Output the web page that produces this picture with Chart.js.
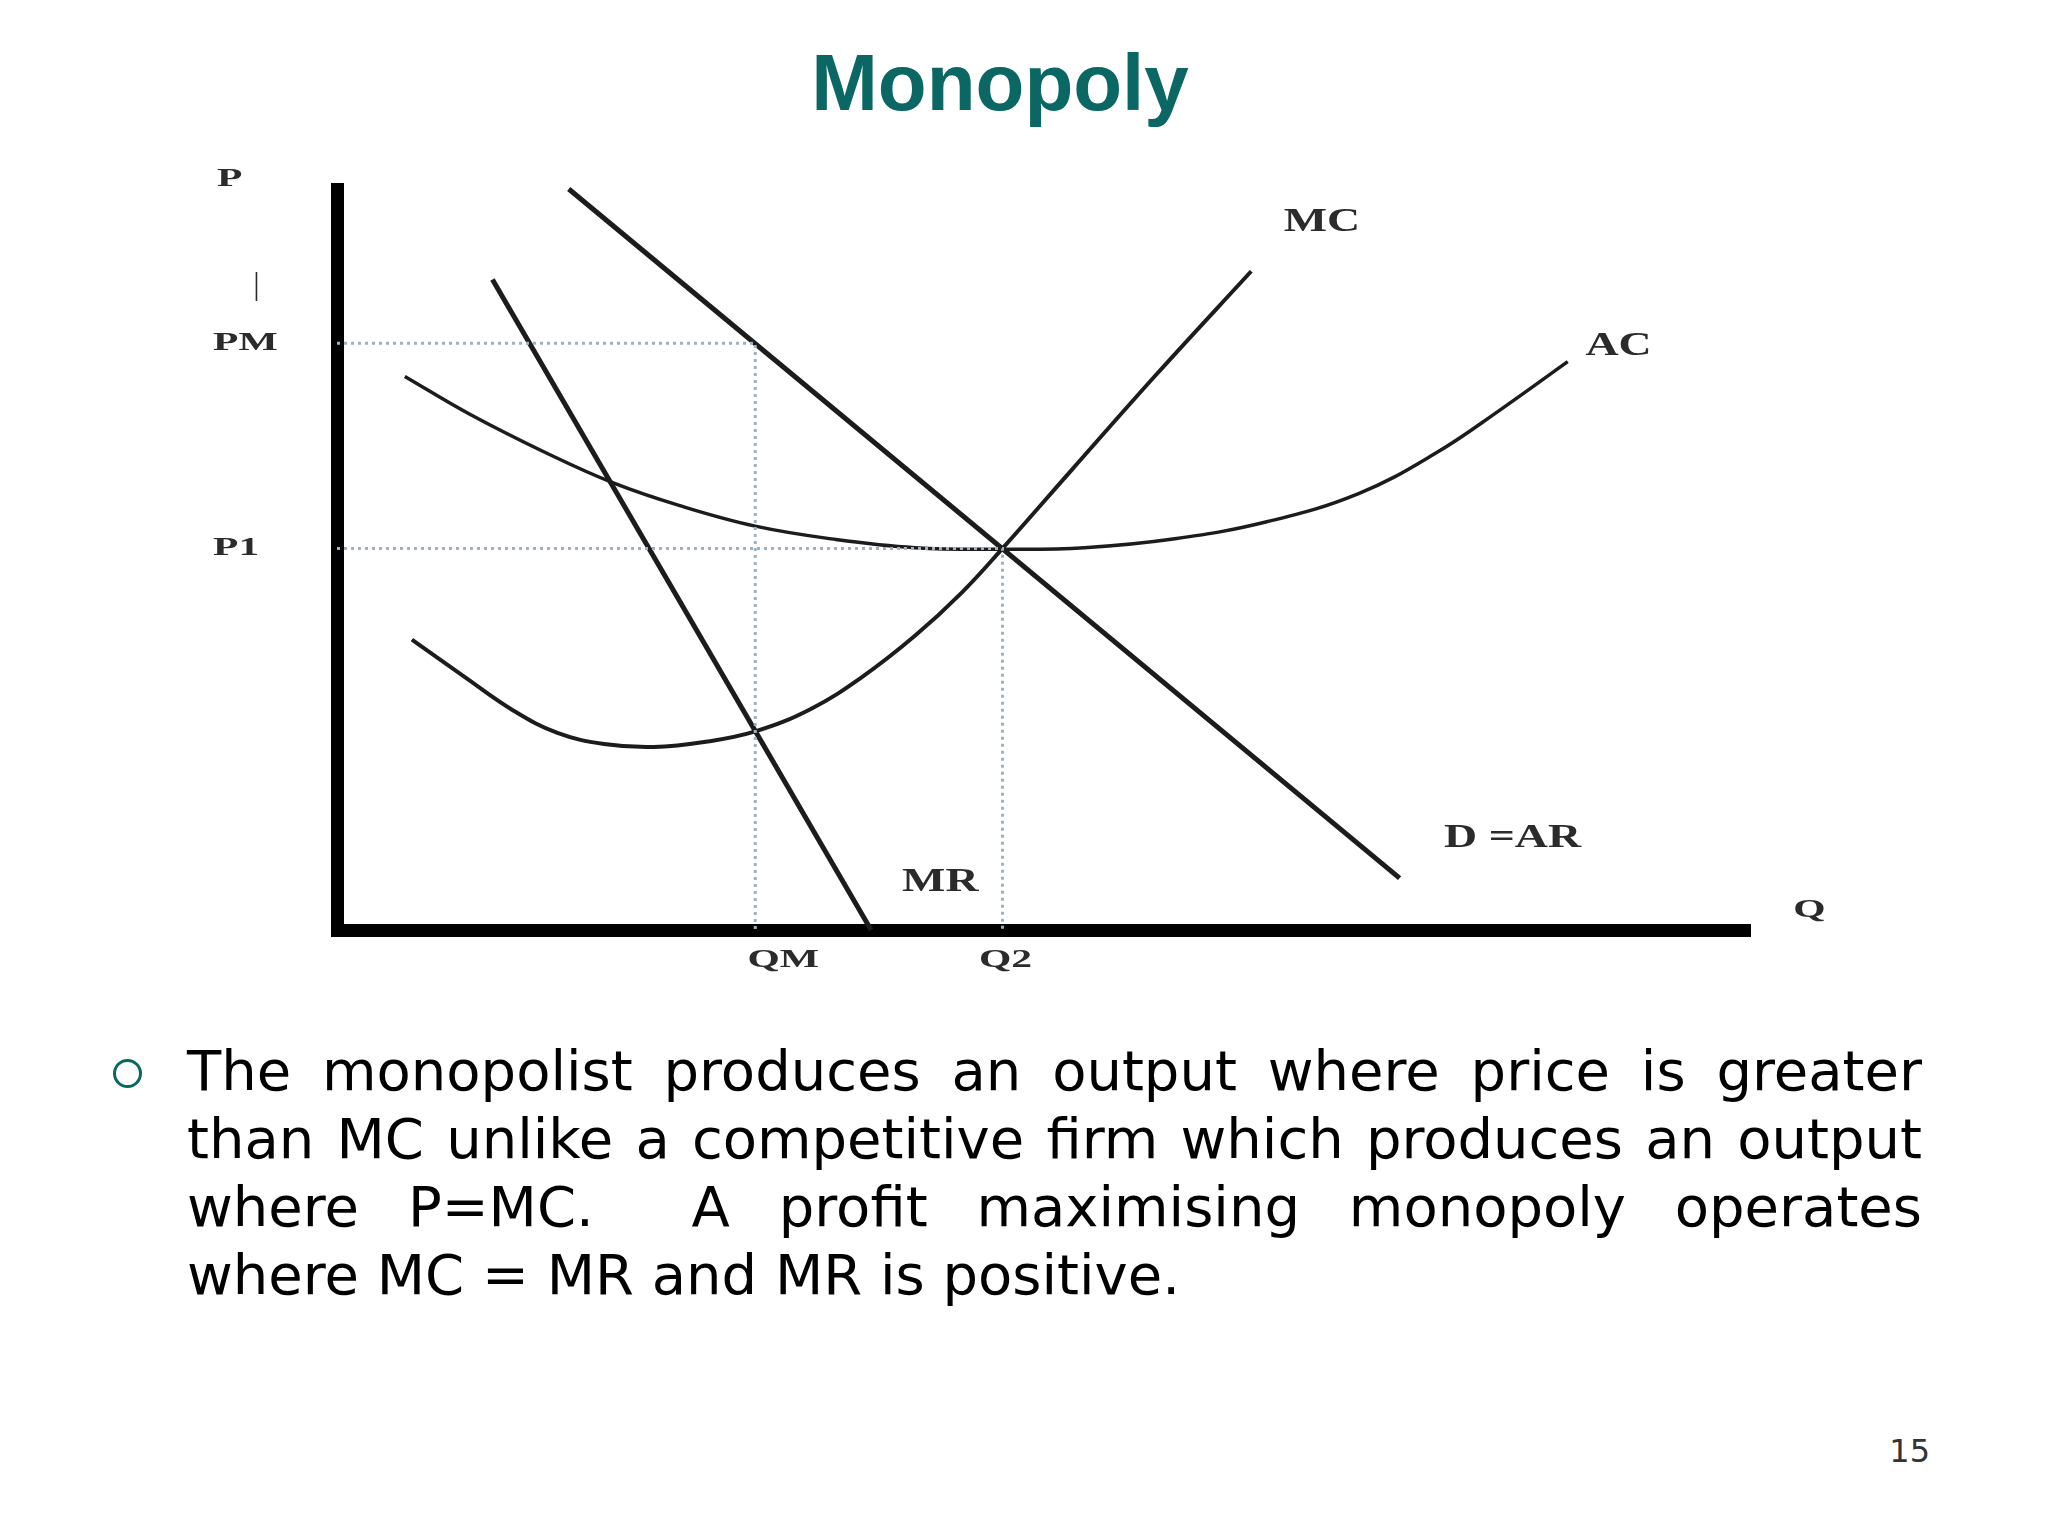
<!DOCTYPE html>
<html>
<head>
<meta charset="utf-8">
<script src="https://cdn.jsdelivr.net/npm/chart.js@4.4.1/dist/chart.umd.min.js"></script>
<style>
  html, body { margin: 0; padding: 0; background: #fff; }
  #page { position: relative; width: 2048px; height: 1536px; overflow: hidden; background: #fff; }
  #title { position: absolute; left: 0; top: 43px; width: 2000px; text-align: center;
           font: bold 80px "Liberation Sans", Arial, sans-serif; line-height: 80px; color: #0b6763; }
  #chartBox { position: absolute; left: 0; top: 0; width: 2048px; height: 1040px; }
  #bullet { position: absolute; left: 113px; top: 1059px; width: 23px; height: 23px;
            border: 3px solid #0b6763; border-radius: 50%; }
  #text { position: absolute; left: 187px; top: 1037px; width: 1735px;
          font: 56px "DejaVu Sans", Verdana, sans-serif; line-height: 68px; color: #000; }
  #text .j { display: block; text-align: justify; text-align-last: justify; }
  #text .l { display: block; text-align: left; }
  #num { position: absolute; right: 118px; top: 1432px; font: 32px "DejaVu Sans", Verdana, sans-serif; color: #333; }
</style>
</head>
<body>
<div id="page">
  <div id="title">Monopoly</div>
  <div id="chartBox"><canvas id="monopolyChart" width="2048" height="1040"></canvas></div>
  <div id="bullet"></div>
  <div id="text">
    <span class="j">The monopolist produces an output where price is greater</span>
    <span class="j">than MC unlike a competitive firm which produces an output</span>
    <span class="j">where P=MC.&nbsp; A profit maximising monopoly operates</span>
    <span class="l">where MC = MR and MR is positive.</span>
  </div>
  <div id="num">15</div>
</div>
<script>
// equilibrium values (quantity and price units)
const QM = 29.6;
const Q2 = 47.1;
const PM = 79.2;
const P1 = 51.5;

// demand / average revenue (straight line)
const demandQ = [16.4, 75.2];
const demandP = [100.0, 7.0];

// marginal revenue (straight line)
const mrQ = [11.0, 37.8];
const mrP = [87.8, 0.0];

// marginal cost curve
const mcQ = [5.3, 9.0, 12.5, 15.6, 18.9, 22.4, 26.1, 29.6, 33.5, 37.2, 40.9, 44.2, 47.1, 52.0, 58.0, 64.7];
const mcP = [39.2, 34.2, 29.6, 26.6, 25.1, 24.7, 25.4, 26.8, 29.8, 34.2, 39.7, 45.5, 51.5, 62.1, 75.0, 88.9];

// average cost curve
const acQ = [4.8, 9.4, 15.0, 19.6, 24.2, 29.6, 35.3, 40.9, 47.1, 52.9, 59.3, 65.8, 72.3, 77.8, 82.4, 87.1];
const acP = [74.7, 69.6, 64.2, 60.3, 57.3, 54.5, 52.7, 51.6, 51.4, 51.6, 52.8, 55.1, 58.9, 64.4, 70.3, 76.7];

// tick labels on the axes
const priceTickLabels = ['PM', 'P1'];
const priceTickValues = [PM, P1];
const qtyTickLabels = ['QM', 'Q2'];
const qtyTickValues = [QM, Q2];

const toPoints = (xs, ys) => xs.map((x, i) => ({ x: x, y: ys[i] }));

// text placed in data units, drawn through the scales
const smallLabels = [
  { text: 'P', x: -7.6, y: 101.3 },
  { text: 'Q', x: 104.2, y: 2.7 }
];
const curveLabels = [
  { text: 'MC', x: 69.7, y: 95.5 },
  { text: 'AC', x: 90.7, y: 78.8 },
  { text: 'D =AR', x: 83.2, y: 12.4 },
  { text: 'MR', x: 42.7, y: 6.5 }
];

function stretchText(ctx, text, x, y, font, sx) {
  ctx.save();
  ctx.translate(x, y);
  ctx.scale(sx, 1);
  ctx.font = font;
  ctx.fillText(text, 0, 0);
  ctx.restore();
}

const labelsPlugin = {
  id: 'diagramLabels',
  afterDraw(chart) {
    const { ctx, chartArea } = chart;
    const xs = chart.scales.x, ys = chart.scales.y;
    const small = 'bold 26px "Liberation Serif", serif';
    const big = 'bold 34px "Liberation Serif", serif';
    ctx.save();
    ctx.fillStyle = '#2b2b2b';
    ctx.textAlign = 'center';
    ctx.textBaseline = 'middle';

    smallLabels.forEach(l => stretchText(ctx, l.text, xs.getPixelForValue(l.x), ys.getPixelForValue(l.y), small, 1.6));
    curveLabels.forEach(l => stretchText(ctx, l.text, xs.getPixelForValue(l.x), ys.getPixelForValue(l.y), big, 1.35));

    // little mark under P
    ctx.font = '32px "Liberation Serif", serif';
    ctx.fillText('|', xs.getPixelForValue(-5.7), ys.getPixelForValue(87.0));

    // price ticks, left aligned
    ctx.textAlign = 'left';
    priceTickLabels.forEach((t, i) => {
      stretchText(ctx, t, chartArea.left - 124, ys.getPixelForValue(priceTickValues[i]), small, 1.6);
    });
    // quantity ticks
    ctx.textAlign = 'center';
    const qShift = [28, 3];
    qtyTickLabels.forEach((t, i) => {
      stretchText(ctx, t, xs.getPixelForValue(qtyTickValues[i]) + qShift[i], chartArea.bottom + 30, small, 1.6);
    });
    ctx.restore();
  }
};

const dotted = { borderColor: '#9fb0c2', borderWidth: 3, borderDash: [3, 4] };
const curve = { borderColor: '#1c1c1c', pointRadius: 0, fill: false, clip: false };

new Chart(document.getElementById('monopolyChart').getContext('2d'), {
  type: 'scatter',
  data: {
    datasets: [
      { label: 'PM', data: [{ x: 0, y: PM }, { x: QM, y: PM }, { x: QM, y: 0 }], showLine: true, pointRadius: 0, ...dotted, clip: false },
      { label: 'P1', data: [{ x: 0, y: P1 }, { x: Q2, y: P1 }, { x: Q2, y: 0 }], showLine: true, pointRadius: 0, ...dotted, clip: false },
      { label: 'D = AR', data: toPoints(demandQ, demandP), showLine: true, borderWidth: 5, ...curve },
      { label: 'MR', data: toPoints(mrQ, mrP), showLine: true, borderWidth: 5, ...curve },
      { label: 'MC', data: toPoints(mcQ, mcP), showLine: true, borderWidth: 4, tension: 0.4, ...curve },
      { label: 'AC', data: toPoints(acQ, acP), showLine: true, borderWidth: 3.5, tension: 0.4, ...curve }
    ]
  },
  options: {
    responsive: false,
    animation: false,
    devicePixelRatio: 1,
    layout: { padding: { left: 0, top: 189, right: 298, bottom: 0 } },
    plugins: {
      legend: { display: false },
      tooltip: { enabled: false },
      title: { display: false }
    },
    scales: {
      x: {
        type: 'linear', min: 0, max: 100,
        grid: { display: false },
        ticks: { display: false },
        border: { display: true, color: '#000', width: 13 },
        afterFit(scale) { scale.height = 110; }
      },
      y: {
        type: 'linear', min: 0, max: 100,
        grid: { display: false },
        ticks: { display: false },
        border: { display: true, color: '#000', width: 13 },
        afterFit(scale) { scale.width = 337; }
      }
    }
  },
  plugins: [labelsPlugin]
});
</script>
</body>
</html>
